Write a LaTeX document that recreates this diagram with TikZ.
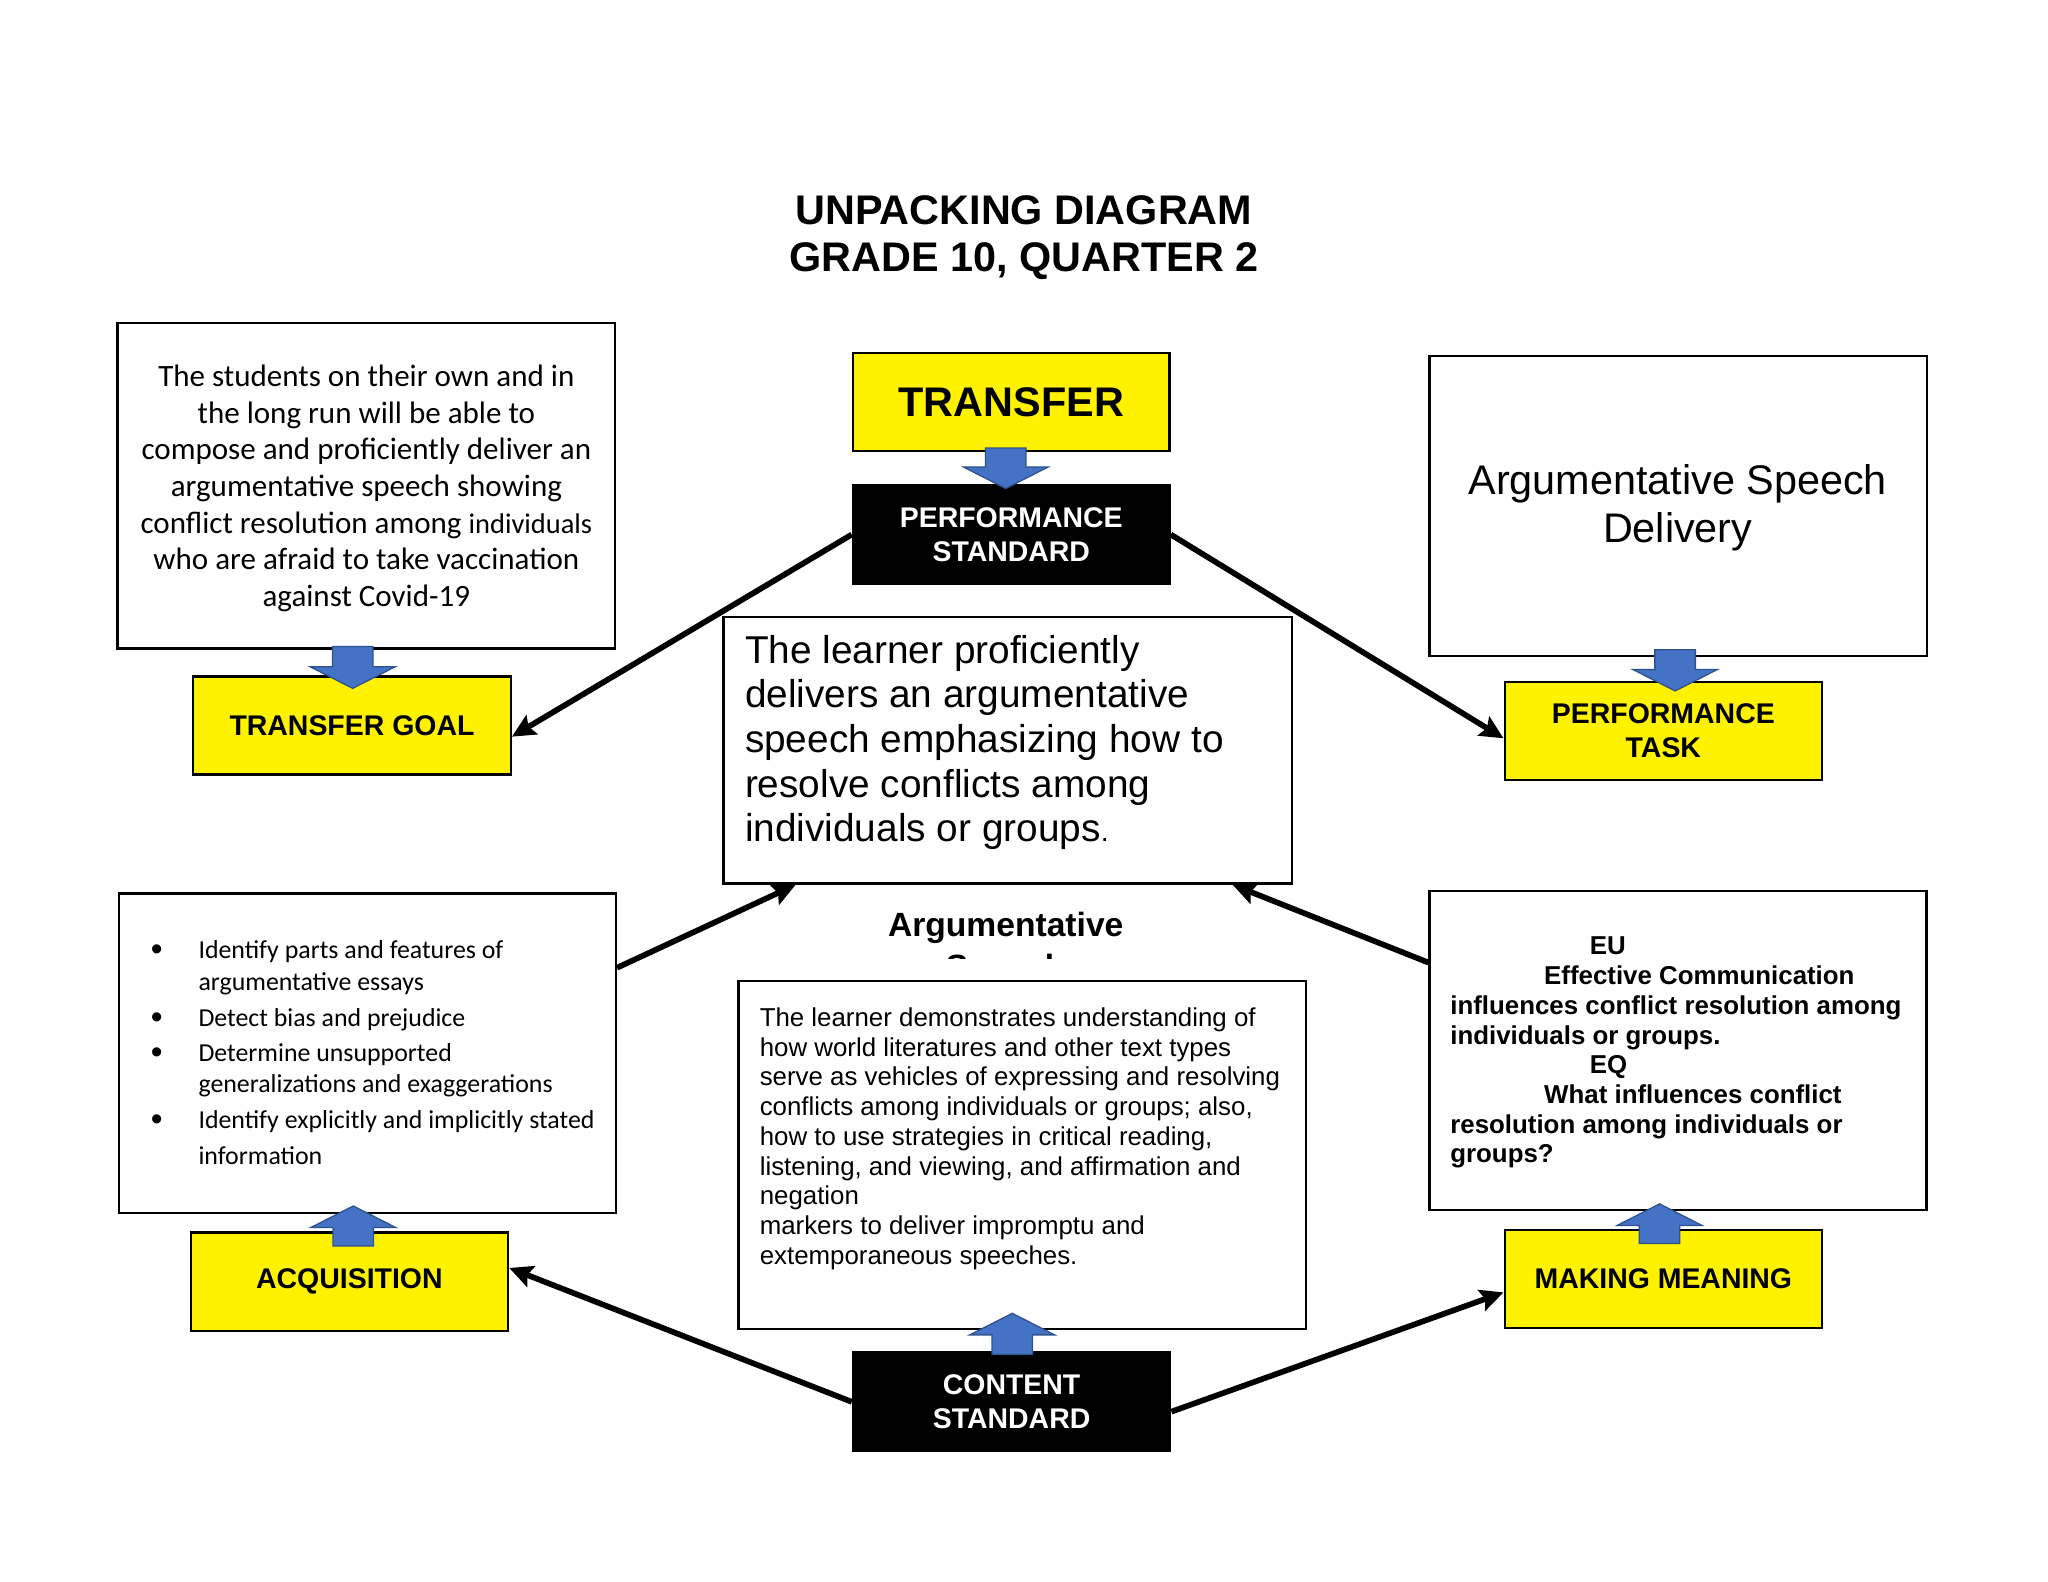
\documentclass[tikz,border=0pt]{standalone}
\usepackage{fontspec}
\setmainfont{Liberation Sans}
\newfontfamily\calibri{Carlito}
\usetikzlibrary{arrows.meta}
\definecolor{blockblue}{HTML}{4472C4}
\definecolor{blockedge}{HTML}{2F528F}
\newcommand\placebox[7]{\node[#2, minimum width={(#5-#3)*0.5051pt}, minimum height={(#6-#4)*0.5051pt}] (#1) at ({(#3+#5)/2},{(#4+#6)/2}) {#7};}
\newcommand\downblock[3]{\filldraw[blockarrow] ({#1-15.5},#2) -- ({#1+15.5},#2) -- ({#1+15.5},{#3-16.5}) -- ({#1+32.5},{#3-16.5}) -- (#1,#3) -- ({#1-32.5},{#3-16.5}) -- ({#1-15.5},{#3-16.5}) -- cycle;}
\newcommand\upblock[3]{\filldraw[blockarrow] ({#1-15.5},#3) -- ({#1+15.5},#3) -- ({#1+15.5},{#2+16.5}) -- ({#1+32.5},{#2+16.5}) -- (#1,#2) -- ({#1-32.5},{#2+16.5}) -- ({#1-15.5},{#2+16.5}) -- cycle;}
\begin{document}
\begin{tikzpicture}[x=0.5051pt,y=-0.5051pt,
  plainbox/.style={draw=black, line width=0.9pt, fill=white, inner sep=0pt},
  yellowbox/.style={draw=black, line width=0.9pt, fill=yellow, inner sep=0pt, align=center, font=\fontsize{11}{13}\selectfont\bfseries},
  blackbox/.style={draw=black, line width=0.9pt, fill=black, text=white, inner sep=0pt, align=center, font=\fontsize{11}{13}\selectfont\bfseries},
  conn/.style={line width=2.2pt, -{Stealth[length=9pt,width=8.5pt,inset=1.5pt]}},
  blockarrow/.style={fill=blockblue, draw=blockedge, line width=0.5pt},
  txt/.style={inner sep=0pt}]
\useasboundingbox[fill=white] (0,0) rectangle (1568,1211);

% title (anchor base = baseline of last line)
\node[txt, anchor=base, align=center, font=\fontsize{16}{18}\selectfont\bfseries] (title) at (784,207.6) {UNPACKING DIAGRAM\\GRADE 10, QUARTER 2};

% boxes
\placebox{tgbox}{plainbox}{90}{247.5}{471}{496.5}{}
\placebox{tg}{yellowbox}{148}{518}{391}{593}{TRANSFER GOAL}
\placebox{transfer}{yellowbox, font=\fontsize{16}{18}\selectfont\bfseries}{653}{270.5}{895.5}{345.5}{TRANSFER}
\placebox{ps}{blackbox}{653}{371.5}{895.5}{447}{PERFORMANCE\\STANDARD}
\placebox{ptbox}{plainbox}{1094.5}{272.5}{1475.5}{502}{}
\placebox{pt}{yellowbox}{1152}{522}{1395}{597}{PERFORMANCE\\TASK}
\placebox{lp}{plainbox}{554}{472.5}{989}{676.5}{}
\placebox{acqbox}{plainbox}{91}{684}{471.5}{928.5}{}
\placebox{acq}{yellowbox}{146}{943.5}{389}{1019}{ACQUISITION}
\placebox{cb}{plainbox}{565.5}{751}{1000}{1017.5}{}
\placebox{cs}{blackbox}{653}{1035.5}{896}{1111}{CONTENT\\STANDARD}
\placebox{eubox}{plainbox}{1094.5}{682}{1475}{926.5}{}
\placebox{mm}{yellowbox}{1152}{941.5}{1395}{1016.5}{MAKING MEANING}

% texts
\node[txt, anchor=base, align=center, font=\calibri\fontsize{12}{14.17}\selectfont] (tgtext) at (280.5,464.3) {The students on their own and in\\the long run will be able to\\compose and proficiently deliver an\\argumentative speech showing\\conflict resolution among {\fontsize{11}{14.17}\selectfont individuals}\\who are afraid to take vaccination\\against Covid-19};

\node[txt, anchor=base, align=center, font=\fontsize{16}{18.4}\selectfont] (pttext) at (1284.5,415) {Argumentative Speech\\Delivery};

\node[txt, anchor=base west, align=left, font=\fontsize{15}{17.25}\selectfont] (lptext) at (570,644.4) {The learner proficiently\\delivers an argumentative\\speech emphasizing how to\\resolve conflicts among\\individuals or groups{\fontsize{11}{17.25}\selectfont .}};

\begin{scope}
\clip (600,690) rectangle (940,734);
\node[txt, anchor=base, font=\fontsize{13}{16}\selectfont\bfseries] (arg1) at (770,717) {Argumentative};
\node[txt, anchor=base, font=\fontsize{13}{16}\selectfont\bfseries] (arg2) at (770,749.5) {Speech};
\end{scope}

\node[txt, anchor=base west, align=left, font=\fontsize{10}{11.48}\selectfont] (cbtext) at (581.3,967.8) {The learner demonstrates understanding of\\how world literatures and other text types\\serve as vehicles of expressing and resolving\\conflicts among individuals or groups; also,\\how to use strategies in critical reading,\\listening, and viewing, and affirmation and\\negation\\markers to deliver impromptu and\\extemporaneous speeches.};

\node[txt, anchor=base west, align=left, font=\fontsize{10}{11.5}\selectfont\bfseries] (eutext) at (1110,890.4) {\hspace*{54pt}EU\\\hspace*{36.3pt}Effective Communication\\influences conflict resolution among\\individuals or groups.\\\hspace*{54pt}EQ\\\hspace*{36.3pt}What influences conflict\\resolution among individuals or\\groups?};

% acquisition list
\begin{scope}[every node/.append style={txt, anchor=base west, align=left, font=\calibri\fontsize{10}{12.2}\selectfont}]
\node (i1) at (151.6,758) {Identify parts and features of\\argumentative essays};
\node (i2) at (151.6,785.7) {Detect bias and prejudice};
\node (i3) at (151.6,836.6) {Determine unsupported\\generalizations and exaggerations};
\node[font=\calibri\fontsize{10}{13.6}\selectfont] (i4) at (151.6,891.2) {Identify explicitly and implicitly stated\\information};
\end{scope}
\begin{scope}[every node/.append style={txt, anchor=base, font=\fontsize{13}{14}\selectfont}]
\node (d1) at (120,735.5) {•};
\node (d2) at (120,787.2) {•};
\node (d3) at (120,814.3) {•};
\node (d4) at (120,865.7) {•};
\end{scope}

% block arrows
\downblock{770}{343}{374}
\downblock{270}{495}{527}
\downblock{1282.5}{497.5}{529}
\upblock{270.5}{923.3}{954}
\upblock{775}{1005.5}{1037}
\upblock{1270.6}{921.7}{952}

% connectors
\draw[conn] (ps.west) -- ([yshift=-4.3pt]tg.east);
\draw[conn] (ps.east) -- ([yshift=-2.9pt]pt.west);
\draw[conn] ([yshift=33pt]acqbox.east) -- ([xshift=-82pt]lp.south);
\draw[conn] ([yshift=34pt]eubox.west) -- ([xshift=87pt]lp.south);
\draw[conn] (cs.west) -- ([yshift=5.3pt]acq.east);
\draw[conn] ([yshift=-3.8pt]cs.east) -- ([yshift=-5.3pt]mm.west);
\end{tikzpicture}
\end{document}
